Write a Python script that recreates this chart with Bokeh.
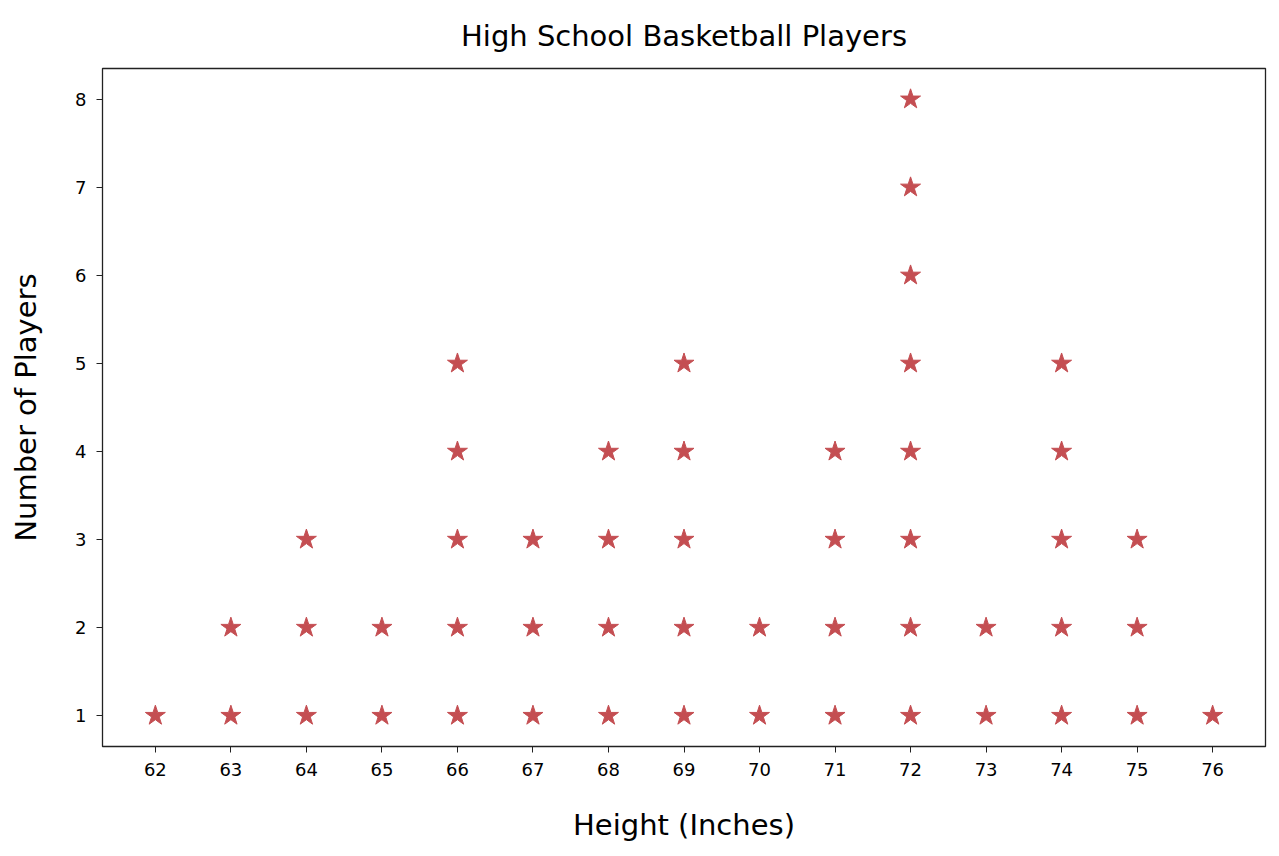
from bokeh.plotting import figure
from bokeh.embed import file_html
from bokeh.resources import INLINE
from bokeh.models import Range1d, FixedTicker

heights = [62, 63, 64, 65, 66, 67, 68, 69, 70, 71, 72, 73, 74, 75, 76]
counts = [1, 2, 3, 2, 5, 3, 4, 5, 2, 4, 8, 2, 5, 3, 1]
title = "High School Basketball Players"
xlabel = "Height (Inches)"
ylabel = "Number of Players"

xs, ys = [], []
for h, c in zip(heights, counts):
    for k in range(1, c + 1):
        xs.append(h)
        ys.append(k)

p = figure(width=1271, height=848, output_backend="svg", toolbar_location=None,
           x_range=Range1d(61.3, 76.7), y_range=Range1d(0.65, 8.35),
           min_border_left=102, min_border_right=6, min_border_top=68, min_border_bottom=102)
p.title.text = title
p.title.align = "center"
p.title.text_font = "DejaVu Sans"
p.title.text_font_size = "29px"
p.title.text_font_style = "normal"
p.title.text_color = "black"
p.title.standoff = 32

p.scatter(xs, ys, marker="star", size=21, fill_color="#c44e52", line_color="#c44e52")

p.xgrid.visible = False
p.ygrid.visible = False
p.outline_line_color = "#222222"
p.outline_line_width = 1.3
for ax in (p.xaxis, p.yaxis):
    ax.axis_line_color = "#222222"
    ax.major_tick_line_color = "#222222"
    ax.major_tick_in = 0
    ax.major_tick_out = 6
    ax.minor_tick_line_color = None
    ax.major_label_text_font = "DejaVu Sans"
    ax.major_label_text_font_size = "18px"
    ax.major_label_text_color = "black"
    ax.major_label_standoff = 10
    ax.axis_label_text_font = "DejaVu Sans"
    ax.axis_label_text_font_size = "29px"
    ax.axis_label_text_font_style = "normal"
    ax.axis_label_text_color = "black"
p.xaxis.ticker = FixedTicker(ticks=heights)
p.yaxis.ticker = FixedTicker(ticks=list(range(1, 9)))
p.xaxis.axis_label = xlabel
p.yaxis.axis_label = ylabel
p.xaxis.axis_label_standoff = 29
p.yaxis.axis_label_standoff = 29

open("out.html", "w").write(file_html(p, INLINE))
